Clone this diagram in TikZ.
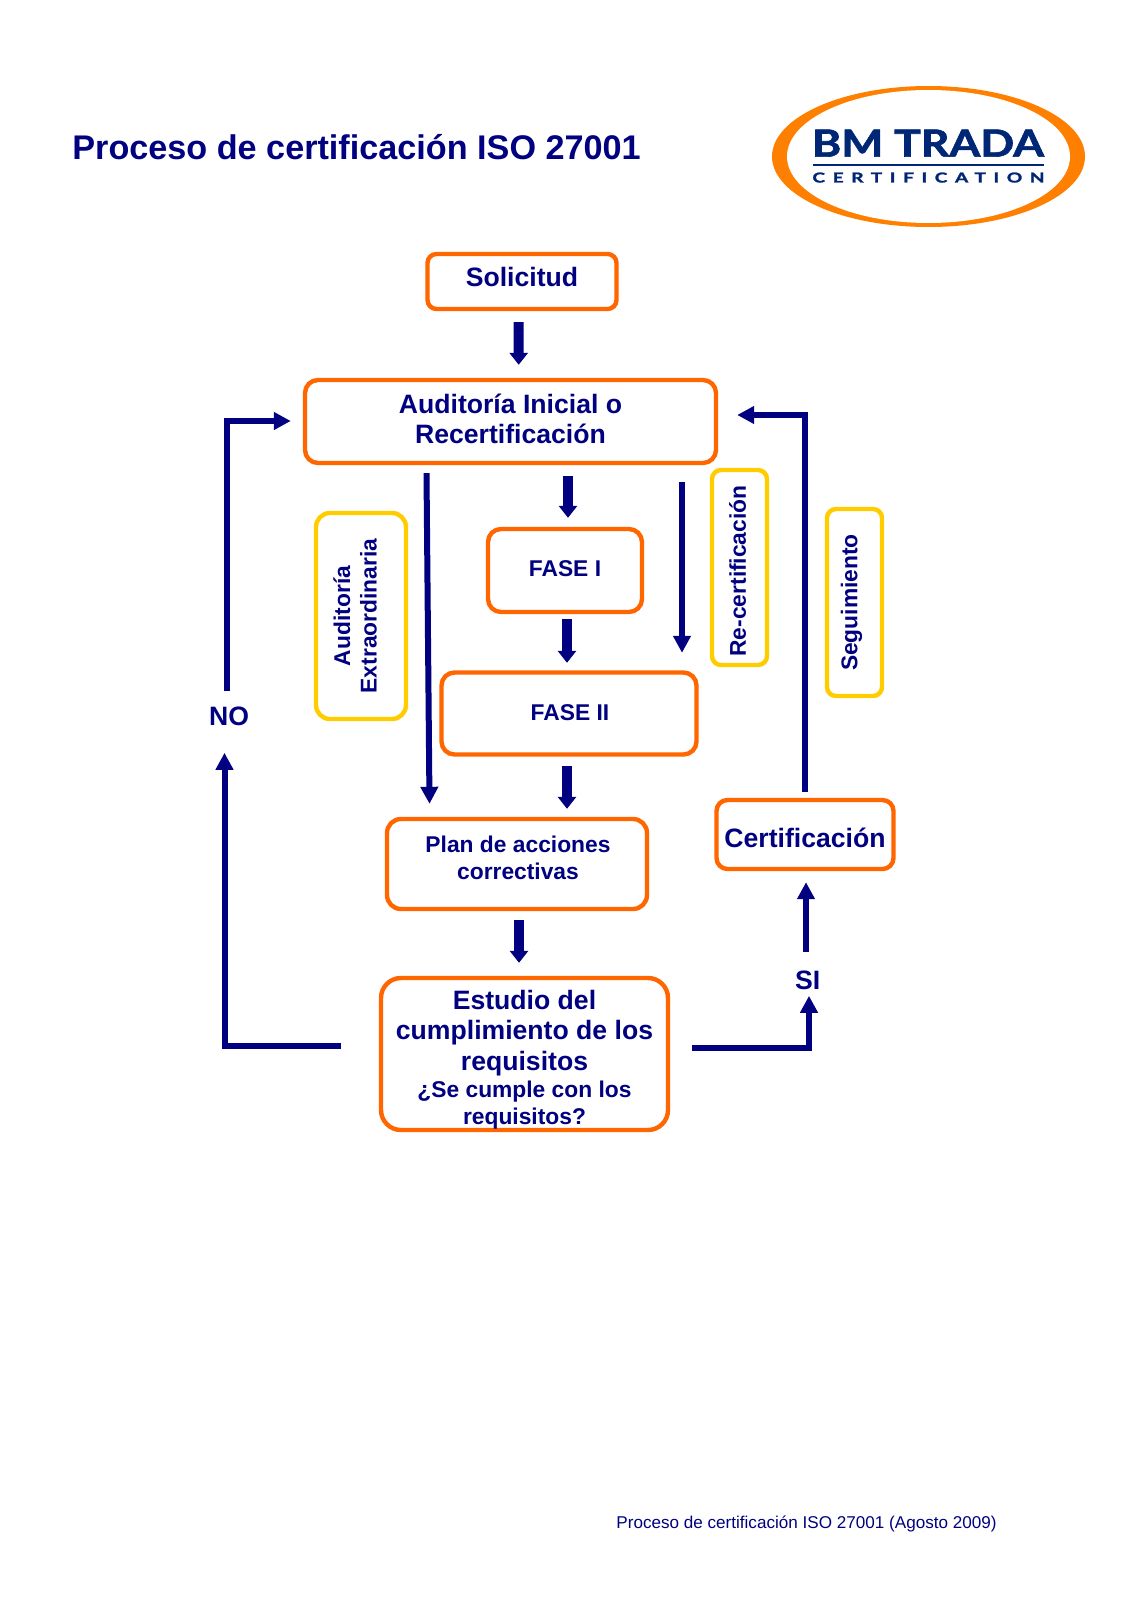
\documentclass[tikz,border=0pt]{standalone}
\usepackage{fontspec}
\usepackage{tikz}
\usetikzlibrary{arrows.meta}
\setmainfont{Liberation Sans}
\newfontfamily\logofont{Lato}[BoldFeatures={FakeBold=1.6}]
\definecolor{bmnavy}{HTML}{000080}
\definecolor{bmorange}{HTML}{FF6600}
\definecolor{bmyellow}{HTML}{FFCC00}
\definecolor{logoorange}{HTML}{FF8000}
\definecolor{logoblue}{HTML}{002776}
\newcommand{\lift}[1]{\rule[-#1]{0pt}{#1}}
\newcommand{\fs}[2]{\fontsize{#1}{#2}\selectfont}

\begin{document}
\begin{tikzpicture}[x=0.5pt,y=-0.5pt,
    orangebox/.style={draw=bmorange,line width=2.2pt,align=center,inner sep=0pt,text=bmnavy,font=\bfseries},
    yellowbox/.style={draw=bmyellow,line width=2.2pt,align=center,inner sep=0pt,text=bmnavy,font=\bfseries\fs{11.4}{13.2},rotate=90},
    answer/.style={inner sep=0pt,text=bmnavy,font=\bfseries\fs{13.3}{15}},
    fatarrow/.style={draw=bmnavy,line width=5pt,-{Triangle[length=6pt,width=9pt]}},
    longarrow/.style={draw=bmnavy,line width=3pt,-{Triangle[length=8.5pt,width=8.5pt]}}]
  \useasboundingbox (0,0) rectangle (1131,1600);

  % heading and logo
  \node[anchor=base west,inner sep=0pt,text=bmnavy,font=\bfseries\fs{17.1}{20}] (title) at (72,160) {Proceso de certificación ISO 27001};
  \fill[logoorange] (928.5,156.5) ellipse (156.5 and 70.5);
  \fill[white] (928.5,156.5) ellipse (141.5 and 66.5);
  \node[inner sep=0pt,text=logoblue,anchor=south] (bmtrada) at (928,157) {\resizebox{116pt}{13.5pt}{\logofont\bfseries BM TRADA}};
  \draw[logoblue,line width=.75pt] (813,165) -- (1044,165);
  \node[inner sep=0pt,text=logoblue,anchor=south] (certification) at (928.5,183) {\resizebox{116pt}{5pt}{\logofont\bfseries\addfontfeatures{LetterSpace=40}CERTIFICATION}};

  % orange boxes
  \node[orangebox,rounded corners=4.5pt,minimum width=94.5pt,minimum height=27.5pt,font=\bfseries\fs{13.3}{15}] (solicitud) at (522,281.5) {Solicitud\lift{5pt}};
  \node[orangebox,rounded corners=6.5pt,minimum width=205.5pt,minimum height=41.5pt,font=\bfseries\fs{13.3}{14.85}] (auditoria) at (510.5,421.5) {Auditoría Inicial o\\Recertificación\lift{3pt}};
  \node[orangebox,rounded corners=6.5pt,minimum width=77pt,minimum height=41.5pt,font=\bfseries\fs{11.4}{13}] (fase1) at (565,570.5) {FASE I\lift{2pt}};
  \node[orangebox,rounded corners=6.5pt,minimum width=127.5pt,minimum height=41pt,font=\bfseries\fs{11.4}{13}] (fase2) at (569,713.5) {\hspace*{1pt}FASE II\lift{1pt}};
  \node[orangebox,rounded corners=7pt,minimum width=130pt,minimum height=45pt,font=\bfseries\fs{11.4}{13.5}] (plan) at (517,864) {\hspace*{1pt}Plan de acciones\\\hspace*{1pt}correctivas\lift{6pt}};
  \node[orangebox,rounded corners=10pt,minimum width=143.5pt,minimum height=76pt,font=\bfseries\fs{13.3}{15.35}] (estudio) at (524.5,1054) {\rule{0pt}{15pt}Estudio del\\cumplimiento de los\\requisitos\\[-2pt]\fs{11.4}{13.3}¿Se cumple con los\\[-2pt]\fs{11.4}{13.3}requisitos?};
  \node[orangebox,rounded corners=5.5pt,minimum width=88.5pt,minimum height=34.5pt,font=\bfseries\fs{13.3}{15}] (certificacion) at (805,834.5) {\rule{0pt}{13pt}Certificación};

  % yellow boxes
  \node[yellowbox,rounded corners=7pt,minimum width=103pt,minimum height=45pt] (extra) at (361,616) {Auditoría\\Extraordinaria\lift{6pt}};
  \node[yellowbox,rounded corners=4.5pt,minimum width=97.5pt,minimum height=27.5pt] (recert) at (739.5,567.5) {Re-certificación\lift{2pt}\hspace*{3.5pt}};
  \node[yellowbox,rounded corners=4.5pt,minimum width=93.5pt,minimum height=27.5pt] (seguimiento) at (854.5,602.5) {Seguimiento\lift{5.4pt}};

  % answers
  \node[answer] (no) at (229,716.5) {NO};
  \node[answer] (si) at (807.6,980.5) {SI};

  % short arrows
  \draw[fatarrow] ([shift={(-3.3,11)}]solicitud.south) -- ([shift={(8.2,-13)}]auditoria.north);
  \draw[fatarrow] ([shift={(57.5,11)}]auditoria.south) -- ([shift={(3,-9)}]fase1.north);
  \draw[fatarrow] ([shift={(2,5)}]fase1.south) -- ([shift={(-2,-7.5)}]fase2.north);
  \draw[fatarrow] ([shift={(-2,9.5)}]fase2.south) -- ([shift={(50,-8)}]plan.north);
  \draw[fatarrow] ([shift={(2,9)}]plan.south) -- ([shift={(-5.5,-13)}]estudio.north);

  % long arrows
  \draw[longarrow] ([shift={(-84,8)}]auditoria.south) -- ([shift={(-87.5,-13)}]plan.north);
  \draw[longarrow] ([shift={(171.5,17)}]auditoria.south) -- ([shift={(113,-17.5)}]fase2.north);
  \draw[longarrow] ([shift={(-.5,-6)}]certificacion.north) |- ([shift={(19,-6.5)}]auditoria.east);
  \draw[longarrow] ([shift={(-2,-15.5)}]no.north) |- ([shift={(-12,-.5)}]auditoria.west);
  \draw[longarrow] ([shift={(-38.3,-8.5)}]estudio.west) -| ([shift={(-4.5,26.5)}]no.south);
  \draw[longarrow] ([shift={(22,-6)}]estudio.east) -| ([shift={(1.4,5.5)}]si.south);
  \draw[longarrow] ([shift={(-1.6,-18.5)}]si.north) -- ([shift={(1,11)}]certificacion.south);

  % footer
  \node[anchor=base west,inner sep=0pt,text=bmnavy,font=\fs{8.55}{10}] (footer) at (616,1528) {Proceso de certificación ISO 27001 (Agosto 2009)};
\end{tikzpicture}
\end{document}
